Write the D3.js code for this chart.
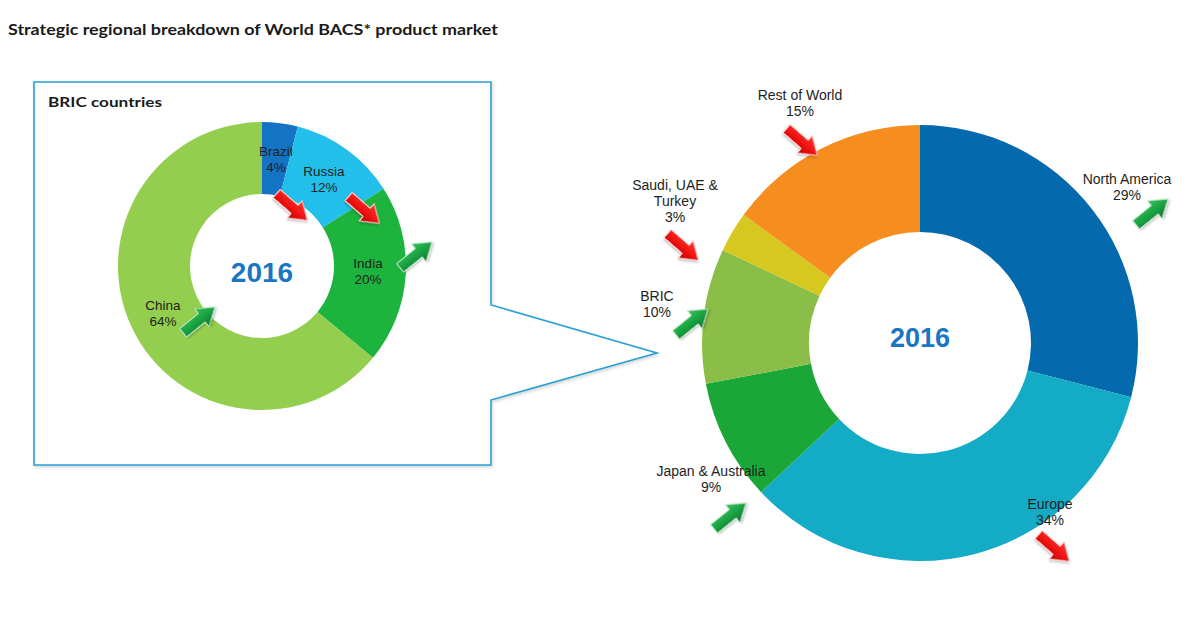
<!DOCTYPE html>
<html>
<head>
<meta charset="utf-8">
<script src="https://cdn.jsdelivr.net/npm/d3@7"></script>
<style>
  html, body { margin: 0; padding: 0; background: #fff; }
  svg { display: block; }
</style>
</head>
<body>
<svg id="chart" width="1200" height="630"></svg>
<script>
// ---------- DATA ----------
const worldRegions = ["North America", "Europe", "Japan & Australia", "BRIC", "Saudi, UAE & Turkey", "Rest of World"];
const worldShares  = [29, 34, 9, 10, 3, 15];
const worldTrend   = ["up", "down", "up", "up", "down", "down"];

const bricCountries = ["Brazil", "Russia", "India", "China"];
const bricShares    = [4, 12, 20, 64];
const bricTrend     = ["down", "down", "up", "up"];

const yearLabel = "2016";

// ---------- STYLE / LAYOUT ----------
const worldColors = ["#0569ae", "#14abc7", "#1ba738", "#8bbe48", "#d6c81e", "#f68d1f"];
const bricColors  = ["#1474c4", "#22bfea", "#1db43e", "#93ce4e"];

// label layout: text lines, centre x, first baseline y
const worldLabelLayout = {
  "North America":       { lines: ["North America", "29%"], x: 1127, y: 184 },
  "Europe":              { lines: ["Europe", "34%"], x: 1050, y: 509 },
  "Japan & Australia":   { lines: ["Japan & Australia", "9%"], x: 711, y: 476 },
  "BRIC":                { lines: ["BRIC", "10%"], x: 657, y: 301 },
  "Saudi, UAE & Turkey": { lines: ["Saudi, UAE &", "Turkey", "3%"], x: 675, y: 190 },
  "Rest of World":       { lines: ["Rest of World", "15%"], x: 800, y: 100 }
};
const worldArrowLayout = {
  "North America":       { x: 1152, y: 212 },
  "Europe":              { x: 1054, y: 548 },
  "Japan & Australia":   { x: 730, y: 516 },
  "BRIC":                { x: 692, y: 322 },
  "Saudi, UAE & Turkey": { x: 683, y: 247 },
  "Rest of World":       { x: 802, y: 142 }
};
const bricLabelLayout = {
  "Brazil": { lines: ["Brazil", "4%"], x: 276, y: 156 },
  "Russia": { lines: ["Russia", "12%"], x: 324, y: 176 },
  "India":  { lines: ["India", "20%"], x: 368, y: 268 },
  "China":  { lines: ["China", "64%"], x: 163, y: 310 }
};
const bricArrowLayout = {
  "Brazil": { x: 292, y: 207 },
  "Russia": { x: 364, y: 210 },
  "India":  { x: 416, y: 255 },
  "China":  { x: 199, y: 320 }
};

const svg = d3.select("#chart");
const defs = svg.append("defs");

// gradients for arrows
const gRed = defs.append("linearGradient").attr("id", "gradRed").attr("x1", 0).attr("y1", 0).attr("x2", 0).attr("y2", 1);
gRed.append("stop").attr("offset", "0%").attr("stop-color", "#ff3b30");
gRed.append("stop").attr("offset", "55%").attr("stop-color", "#ee1111");
gRed.append("stop").attr("offset", "100%").attr("stop-color", "#b80000");
const gGreen = defs.append("linearGradient").attr("id", "gradGreen").attr("x1", 0).attr("y1", 0).attr("x2", 0).attr("y2", 1);
gGreen.append("stop").attr("offset", "0%").attr("stop-color", "#34c259");
gGreen.append("stop").attr("offset", "55%").attr("stop-color", "#18a040");
gGreen.append("stop").attr("offset", "100%").attr("stop-color", "#0b7432");

const shadow = defs.append("filter").attr("id", "shadow").attr("x", "-30%").attr("y", "-30%").attr("width", "160%").attr("height", "160%");
shadow.append("feDropShadow").attr("dx", 1).attr("dy", 1.5).attr("stdDeviation", 1.2).attr("flood-color", "#000").attr("flood-opacity", 0.25);

const boxShadow = defs.append("filter").attr("id", "boxShadow").attr("x", "-5%").attr("y", "-5%").attr("width", "110%").attr("height", "110%");
boxShadow.append("feDropShadow").attr("dx", 1).attr("dy", 2).attr("stdDeviation", 1.5).attr("flood-color", "#000").attr("flood-opacity", 0.15);

// ---------- TITLE ----------
svg.append("text")
  .attr("x", 8).attr("y", 35)
  .attr("font-family", "Lato, 'Open Sans', sans-serif")
  .attr("font-weight", 700)
  .attr("font-size", 15)
  .attr("fill", "#1a1a1a")
  .attr("textLength", 490)
  .attr("lengthAdjust", "spacingAndGlyphs")
  .text("Strategic regional breakdown of World BACS* product market");

// ---------- INSET BOX with callout ----------
const boxPts = [[34, 82], [491, 82], [491, 305], [657, 353], [491, 400], [491, 465], [34, 465]];
svg.append("path")
  .attr("d", d3.line()(boxPts) + "Z")
  .attr("fill", "#fff")
  .attr("stroke", "#2a9fd2")
  .attr("stroke-width", 1.6)
  .attr("filter", "url(#boxShadow)");

svg.append("text")
  .attr("x", 48).attr("y", 107)
  .attr("font-family", "Lato, 'Open Sans', sans-serif")
  .attr("font-weight", 700)
  .attr("font-size", 14)
  .attr("fill", "#1a1a1a")
  .attr("textLength", 114)
  .attr("lengthAdjust", "spacingAndGlyphs")
  .text("BRIC countries");

// ---------- helpers ----------
const pie = d3.pie().sort(null).value(d => d.value);

function arrowPath() {
  // pointing along +x, centred at origin, total length 41
  const L = 41, sh = 5.5, hw = 11.5, hl = 17;
  const x0 = -L / 2, x1 = L / 2 - hl, x2 = L / 2;
  return `M${x0},${-sh}L${x1},${-sh}L${x1},${-hw}L${x2},0L${x1},${hw}L${x1},${sh}L${x0},${sh}Z`;
}

function drawArrow(g, pos, trend) {
  const angle = trend === "up" ? -39 : 41;
  g.append("path")
    .attr("d", arrowPath())
    .attr("transform", `translate(${pos.x},${pos.y}) rotate(${angle})`)
    .attr("fill", trend === "up" ? "url(#gradGreen)" : "url(#gradRed)")
    .attr("stroke", trend === "up" ? "#b9e6c4" : "#ffd0d0")
    .attr("stroke-width", 1)
    .attr("filter", "url(#shadow)");
}

function drawDonut(opts) {
  const data = opts.names.map((n, i) => ({ name: n, value: opts.values[i], trend: opts.trends[i], color: opts.colors[i] }));
  const arcs = pie(data);
  const arc = d3.arc().innerRadius(opts.rIn).outerRadius(opts.rOut);
  const g = svg.append("g").attr("transform", `translate(${opts.cx},${opts.cy})`);
  g.selectAll("path.slice")
    .data(arcs)
    .join("path")
    .attr("class", "slice")
    .attr("d", arc)
    .attr("fill", d => d.data.color);

  g.append("text")
    .attr("x", 0).attr("y", opts.yearDy)
    .attr("text-anchor", "middle")
    .attr("font-family", "'Liberation Sans', Arial, sans-serif")
    .attr("font-weight", 700)
    .attr("font-size", opts.yearSize)
    .attr("fill", "#1a76c2")
    .text(yearLabel);

  const lg = svg.append("g");
  data.forEach(d => {
    const lay = opts.labels[d.name];
    const t = lg.append("text")
      .attr("text-anchor", "middle")
      .attr("font-family", "'Liberation Sans', Arial, sans-serif")
      .attr("font-size", opts.labelSize)
      .attr("fill", "#1e1e1e");
    lay.lines.forEach((ln, i) => {
      t.append("tspan").attr("x", lay.x).attr("y", lay.y + i * 16).text(ln);
    });
  });
  const ag = svg.append("g");
  data.forEach(d => drawArrow(ag, opts.arrows[d.name], d.trend));
}

// ---------- BRIC donut ----------
drawDonut({
  names: bricCountries, values: bricShares, trends: bricTrend, colors: bricColors,
  cx: 262, cy: 266, rIn: 72, rOut: 144,
  yearDy: 16, yearSize: 28, labelSize: 13.5,
  labels: bricLabelLayout, arrows: bricArrowLayout
});

// ---------- World donut ----------
drawDonut({
  names: worldRegions, values: worldShares, trends: worldTrend, colors: worldColors,
  cx: 920, cy: 343, rIn: 111, rOut: 218,
  yearDy: 4, yearSize: 27, labelSize: 14,
  labels: worldLabelLayout, arrows: worldArrowLayout
});
</script>
</body>
</html>
